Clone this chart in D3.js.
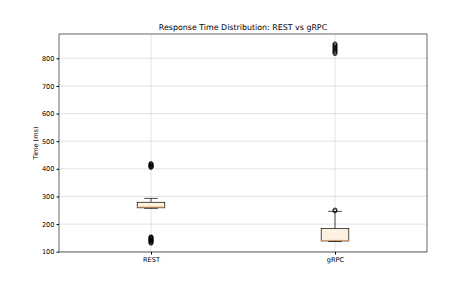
<!DOCTYPE html>
<html>
<head>
<meta charset="utf-8">
<script src="https://cdn.jsdelivr.net/npm/d3@7"></script>
<style>
  body { margin: 0; background: #fff; }
  text { font-family: "DejaVu Sans", sans-serif; }
</style>
</head>
<body>
<div id="viz"></div>
<script>
const width = 474;
const height = 284;
const margin = {top: 34, right: 47, bottom: 32, left: 59};

// Box plot data (ms)
const categories = ['REST', 'gRPC'];
const whiskerLow = [257, 137];
const q1 = [259, 139];
const median = [262, 141];
const q3 = [279, 184];
const whiskerHigh = [293, 246];
const outliers = [
  [405, 407, 409, 411, 413, 415, 417, 419, 131, 133, 136, 138, 140, 142, 144, 146, 148, 150, 152, 154],
  [248, 251, 817, 821, 825, 829, 833, 837, 841, 845, 849, 852]
];
const yTicks = [100, 200, 300, 400, 500, 600, 700, 800];

const svg = d3.select('#viz')
  .append('svg')
    .attr('width', width)
    .attr('height', height);

const x = d3.scaleLinear()
  .domain([0.5, 2.5])
  .range([margin.left, width - margin.right]);

const y = d3.scaleLinear()
  .domain([99, 888])
  .range([height - margin.bottom, margin.top]);

const boxW = x(1.15) - x(1);

// grid
svg.append('g').selectAll('line').data(yTicks).join('line')
  .attr('x1', margin.left).attr('x2', width - margin.right)
  .attr('y1', d => y(d)).attr('y2', d => y(d))
  .attr('stroke', '#b0b0b0').attr('stroke-opacity', 0.6).attr('stroke-width', 0.6);
svg.append('g').selectAll('line').data(categories).join('line')
  .attr('x1', (d, i) => x(i + 1)).attr('x2', (d, i) => x(i + 1))
  .attr('y1', margin.top).attr('y2', height - margin.bottom)
  .attr('stroke', '#b0b0b0').attr('stroke-opacity', 0.6).attr('stroke-width', 0.6);

// axes
const yAxis = d3.axisLeft(y).tickValues(yTicks).tickSize(2.5).tickPadding(2);
svg.append('g')
  .attr('transform', `translate(${margin.left},0)`)
  .call(yAxis)
  .call(g => g.select('.domain').remove())
  .call(g => g.selectAll('line').attr('stroke', '#000'))
  .call(g => g.selectAll('text').attr('font-size', 6.6).attr('fill', '#000'));

const xAxis = d3.axisBottom(x).tickValues([1, 2]).tickFormat((d, i) => categories[i]).tickSize(2.5).tickPadding(3);
svg.append('g')
  .attr('transform', `translate(0,${height - margin.bottom})`)
  .call(xAxis)
  .call(g => g.select('.domain').remove())
  .call(g => g.selectAll('line').attr('stroke', '#000'))
  .call(g => g.selectAll('text').attr('font-size', 6.6).attr('fill', '#000'));

// boxes
const boxes = svg.append('g').selectAll('g').data(categories).join('g');

boxes.append('line')
  .attr('x1', (d, i) => x(i + 1)).attr('x2', (d, i) => x(i + 1))
  .attr('y1', (d, i) => y(whiskerLow[i])).attr('y2', (d, i) => y(q1[i]))
  .attr('stroke', '#000').attr('stroke-width', 0.7);
boxes.append('line')
  .attr('x1', (d, i) => x(i + 1)).attr('x2', (d, i) => x(i + 1))
  .attr('y1', (d, i) => y(q3[i])).attr('y2', (d, i) => y(whiskerHigh[i]))
  .attr('stroke', '#000').attr('stroke-width', 0.7);
boxes.append('line')
  .attr('x1', (d, i) => x(i + 1) - boxW / 4).attr('x2', (d, i) => x(i + 1) + boxW / 4)
  .attr('y1', (d, i) => y(whiskerHigh[i])).attr('y2', (d, i) => y(whiskerHigh[i]))
  .attr('stroke', '#000').attr('stroke-width', 0.7);
boxes.append('line')
  .attr('x1', (d, i) => x(i + 1) - boxW / 4).attr('x2', (d, i) => x(i + 1) + boxW / 4)
  .attr('y1', (d, i) => y(whiskerLow[i])).attr('y2', (d, i) => y(whiskerLow[i]))
  .attr('stroke', '#000').attr('stroke-width', 0.7);
boxes.append('rect')
  .attr('x', (d, i) => x(i + 1) - boxW / 2)
  .attr('width', boxW)
  .attr('y', (d, i) => y(q3[i]))
  .attr('height', (d, i) => y(q1[i]) - y(q3[i]))
  .attr('fill', '#fdf1e2')
  .attr('stroke', '#000').attr('stroke-width', 0.7);
boxes.append('line')
  .attr('x1', (d, i) => x(i + 1) - boxW / 2).attr('x2', (d, i) => x(i + 1) + boxW / 2)
  .attr('y1', (d, i) => y(median[i])).attr('y2', (d, i) => y(median[i]))
  .attr('stroke', '#f5a25a').attr('stroke-width', 0.8);

// outliers
boxes.selectAll('circle').data((d, i) => outliers[i].map(v => ({v, i}))).join('circle')
  .attr('cx', d => x(d.i + 1))
  .attr('cy', d => y(d.v))
  .attr('r', 2)
  .attr('fill', 'none')
  .attr('stroke', '#000').attr('stroke-width', 0.8);

// frame
svg.append('rect')
  .attr('x', margin.left).attr('y', margin.top)
  .attr('width', width - margin.left - margin.right)
  .attr('height', height - margin.top - margin.bottom)
  .attr('fill', 'none').attr('stroke', '#000').attr('stroke-width', 0.6);

// labels
svg.append('text')
  .attr('x', (margin.left + width - margin.right) / 2)
  .attr('y', 30)
  .attr('text-anchor', 'middle')
  .attr('font-size', 7.9)
  .attr('fill', '#000')
  .text('Response Time Distribution: REST vs gRPC');

svg.append('text')
  .attr('transform', `translate(38,${(margin.top + height - margin.bottom) / 2}) rotate(-90)`)
  .attr('text-anchor', 'middle')
  .attr('font-size', 6.6)
  .attr('fill', '#000')
  .text('Time (ms)');
</script>
</body>
</html>
